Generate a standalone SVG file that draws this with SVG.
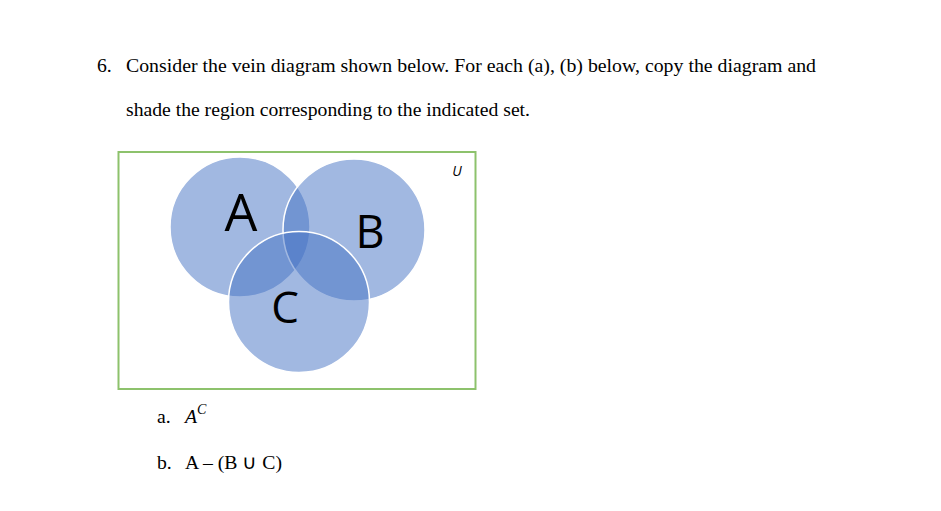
<svg xmlns="http://www.w3.org/2000/svg" width="941" height="511" viewBox="0 0 941 511">
<style>
.t{font-family:"Liberation Serif","Times New Roman",serif;font-size:19.7px;fill:#000}
.lbl{font-family:"Open Sans","Liberation Sans",sans-serif;fill:#000;text-anchor:middle}
.c{fill:#4472c4;fill-opacity:0.5;stroke:#fff;stroke-width:1.5}
</style>
<rect width="941" height="511" fill="#fff"/>
<g id="question">
<text class="t" x="97" y="72">6.</text>
<text class="t" x="126" y="72" textLength="690" lengthAdjust="spacingAndGlyphs">Consider the vein diagram shown below. For each (a), (b) below, copy the diagram and</text>
<text class="t" x="126" y="116" textLength="404" lengthAdjust="spacingAndGlyphs">shade the region corresponding to the indicated set.</text>
</g>
<g id="universe">
<rect x="118.5" y="152" width="357" height="237" fill="none" stroke="#8dc26c" stroke-width="2"/>
<text x="457" y="176" font-family="'Open Sans','Liberation Sans',sans-serif" font-size="14" font-style="italic" text-anchor="middle">U</text>
</g>
<g id="setA"><circle class="c" cx="240" cy="227" r="70"/></g>
<g id="setB"><circle class="c" cx="354" cy="230" r="71"/></g>
<g id="setC"><circle class="c" cx="299" cy="302" r="70.5"/></g>
<g id="labels">
<text class="lbl" x="241" y="231" font-size="52">A</text>
<text class="lbl" x="370" y="248" font-size="45">B</text>
<text class="lbl" x="285" y="323" font-size="44">C</text>
</g>
<g id="parts">
<text class="t" x="157" y="423">a.</text>
<text class="t" x="185" y="423" font-style="italic">A<tspan font-size="14" dy="-9">C</tspan></text>
<text class="t" x="157" y="469">b.</text>
<text class="t" x="185" y="469">A – (B ∪ C)</text>
</g>
</svg>
